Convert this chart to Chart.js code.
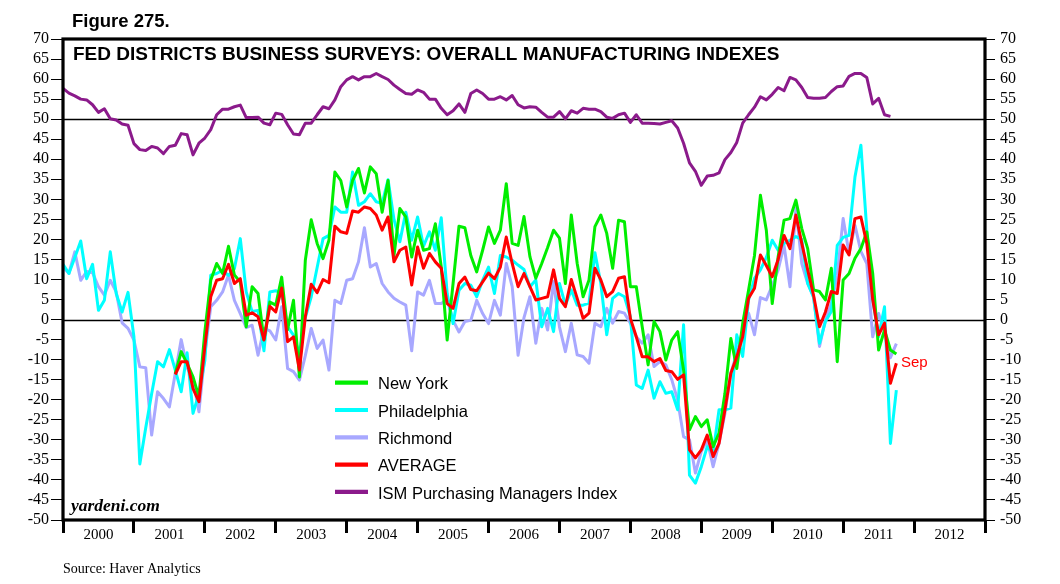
<!DOCTYPE html>
<html><head><meta charset="utf-8">
<script src="https://cdn.jsdelivr.net/npm/chart.js@4.4.1/dist/chart.umd.min.js"></script>
<style>html,body{margin:0;padding:0;background:#fff;}#wrap{width:1060px;height:584px;position:relative;}</style>
</head><body><div id="wrap"><canvas id="c" width="1060" height="584"></canvas></div>
<script>
// ---- DATA (monthly, index 0 = Dec 1999, points at month end) ----
const yearLabels = ['2000','2001','2002','2003','2004','2005','2006','2007','2008','2009','2010','2011','2012'];
const yTicks = [-50, 70, 5];            // min, max, step
const seriesNames = ['New York','Philadelphia','Richmond','AVERAGE','ISM Purchasing Managers Index'];
const nyStart = 19;                     // NY survey and average begin Jul 2001

const ism = [
57.7,56.5,55.8,55.0,54.8,53.6,51.7,52.6,50.1,49.8,48.8,48.5,
43.9,42.4,42.2,43.2,42.8,41.4,43.2,43.5,46.4,46.1,41.1,44.0,
45.3,47.4,51.1,52.5,52.5,53.1,53.5,50.4,50.4,50.5,49.0,48.6,
51.5,51.2,48.6,46.3,46.1,49.0,49.0,51.1,53.1,52.6,54.8,58.1,
59.8,60.6,59.8,60.6,60.6,61.4,60.6,59.9,58.5,57.4,56.4,56.2,
57.3,56.7,55.0,55.0,52.7,51.1,52.1,53.8,51.7,56.4,57.3,56.4,
55.0,55.0,55.6,54.8,55.9,53.6,52.8,53.1,53.0,51.7,50.5,50.5,
51.9,50.1,52.1,51.5,52.7,52.5,52.5,51.9,50.5,50.2,51.1,51.5,
49.2,51.1,49.0,49.0,48.9,48.8,49.2,49.6,47.8,44.0,39.1,37.0,
33.5,35.8,36.0,36.6,39.9,41.7,44.2,49.0,51.1,53.0,55.6,54.8,
56.2,57.9,57.1,60.4,59.8,57.9,55.4,55.2,55.2,55.4,56.9,58.1,
58.3,60.7,61.4,61.4,60.4,53.8,55.2,51.1,50.7];

const philadelphia = [
13.8,11.5,15.5,19.6,10.2,13.8,2.3,4.8,16.9,6.5,1.9,6.8,
-4.3,-36,-27,-18.5,-10.5,-11.8,-7.5,-12.6,-18,-8.3,-23.4,-18.5,
-10.2,11.1,11.5,12.3,11,12.7,20.2,6.9,2,2.3,-7.8,6.9,
7.2,6.5,-1.8,-3.9,-8.5,0.5,5.7,13,20.2,21,28.1,26.8,
26.8,36.8,28.5,29.4,31.4,29.4,29,34.9,25,19.4,26.8,19.8,
25.6,18.3,21.9,17.3,25.4,6.5,-1,7.3,9,8.6,5.7,9.8,
13.1,6.5,16,15.6,14.8,13.6,12.5,8.2,9.9,-1.8,2.8,-3,
9,3.6,7.4,3.6,3.6,4.1,16.7,9,-3.8,5.3,6.5,5.7,
0.7,-16.3,-17.2,-12.6,-19.6,-15.5,-18.4,-18,-22.5,-1.3,-38.8,-40.8,
-36.7,-31.7,-33.3,-22.5,-22.5,-22.1,-3.8,-9.2,4.9,10.3,12.4,15.5,
19.8,17.3,19,19.8,20.7,20,9,5.5,-5.9,-0.5,2,18.5,
20.5,21,35.6,43.5,22.4,5,-4.3,3.2,-30.9,-17.6];

const richmond = [
13.1,11.5,16.9,9.8,12.0,11.7,8.2,6.1,9.8,6.9,-0.8,-2.2,
-5.1,-11.8,-12,-28.8,-18,-19.7,-21.8,-13.4,-5,-12,-15,-23,
-8.5,3.2,4.8,6.9,11.1,4.8,1.5,-2,-1.4,-8.9,-2.2,-2.8,
-5.1,3.2,-12.2,-13,-15.1,-9,-2.2,-7.2,-5.1,-12.6,4.8,4,
9.8,10.2,14.4,22.9,13.1,14,9,6.9,5.3,4.4,3.6,-7.8,
6.9,6.1,9.8,4,4,5,-0.2,-3.1,-0.5,-0.2,4.8,1.5,
-1,4.8,1.1,14,8.2,-8.9,0.5,5.7,-5.9,2.8,-2.6,9.5,
-1.8,-8,-0.9,-8.8,-9.2,-10.9,-0.9,-1.8,2.8,-0.9,2,1.6,
-0.9,-4.3,-5.9,-3.8,-11.7,-10.5,-11.3,-15,-20.1,-29.2,-30,-38.3,
-32.9,-30,-36.7,-30.8,-23.4,-13.4,-8.4,-2.6,1.6,-3.8,5.5,4.9,
8.5,12.4,18.5,8.2,27.8,14,9,5.7,-6.7,0,4,11,
25.2,16.5,23.5,17,14,-4.3,1.5,-3,-9.5,-6];

const newYork = [
-13.5,-8,-11,-14.3,-19.3,
-3,9.8,14,11.5,18.3,11.1,9.4,-1.8,8.2,6.5,-5,4.4,
3.6,10.6,-2.5,4.8,-14.3,14.8,24.9,19,15.2,19.8,36.8,34.7,
28.1,34.7,37.7,31.6,38.1,36.4,26.8,34.7,16,27.7,25.6,15.6,
22.3,17.3,17.7,23.9,13.1,-5.1,9,23.3,22.9,16,11.9,17.3,
23.1,19,22.3,33.9,19,18.5,25.7,15.7,10.3,14,18,22.3,
20.3,9,26.1,14,5.7,9.9,23.2,26.1,21.5,12.8,24.8,24.4,
8.2,8.2,-1.8,-11.3,-0.5,-3,-10.1,-5.1,-3,-12.6,-27.5,-24.2,
-26.7,-25,-31.7,-28.3,-18.4,-4.7,-12.2,-1,7.4,16,31,22.3,
4,15.7,24.8,25.2,29.8,22.7,17.7,7.4,7,4.9,12.8,-10.5,
9.9,11.5,15.3,17.7,21.9,11.5,-7.6,-2.6,-7.6,-8.6];

const average = [
-13.7,-10.5,-10.5,-17.2,-20.5,
-6.8,5.7,9.8,10.2,13.8,9,10.2,1.1,1.7,0.7,-5.1,3.3,
1.9,7.9,-5.5,-4.3,-12.6,0.7,8.8,6.7,10,9.2,23.3,21.9,
21.5,27.1,26.8,28.1,27.7,26.1,22.3,25.6,14.4,17.3,18.1,8.6,
18.1,12.8,16.5,14.4,12.8,4,2.8,9,10.6,7.5,7.2,9.4,
11.6,10.2,13.1,20.6,14,8.2,11.5,8.2,4.9,5.3,5.7,12.4,
5.3,3.2,10,5.3,0.3,1.6,12.8,9.9,5.7,7,10.3,10.7,
0.3,-4.3,-9.3,-9.3,-10.5,-9.7,-12.7,-13,-14.9,-13.8,-32.5,-34.5,
-32.5,-28.8,-34.2,-30.9,-22.5,-13.4,-9.3,-4.3,5.3,7.8,16.1,13.5,
10.7,15,21,17.7,26.1,19,12.4,6,-1.8,1.9,7,6.5,
18.6,16.1,25.2,25.6,19,5,-3.8,-0.9,-15.9,-10.9];

// ---- CHART ----
const COLORS = ['#00ee00','#00ffff','#a8a8ff','#ff0000','#8b1a8b'];
const pts = (arr, start) => arr.map((v, i) => ({x: start + i, y: v}));
const serif = '"Liberation Serif", "Times New Roman", serif';
const sans = '"Liberation Sans", Arial, sans-serif';

const decor = {
  id: 'decor',
  beforeDatasetsDraw(chart) {
    const {ctx, chartArea: a, scales: {y}} = chart;
    ctx.save();
    ctx.strokeStyle = '#000'; ctx.lineWidth = 1.5;
    [0, 50].forEach(v => {
      const py = Math.round(y.getPixelForValue(v)) + 0.5;
      ctx.beginPath(); ctx.moveTo(a.left, py); ctx.lineTo(a.right, py); ctx.stroke();
    });
    ctx.restore();
  },
  afterDraw(chart) {
    const {ctx, chartArea: a} = chart;
    ctx.save();
    // frame
    ctx.strokeStyle = '#000'; ctx.lineWidth = 3.2;
    ctx.strokeRect(a.left, a.top, a.right - a.left, a.bottom - a.top);
    // figure label
    ctx.fillStyle = '#000';
    ctx.textBaseline = 'alphabetic'; ctx.textAlign = 'left';
    ctx.font = 'bold 18.5px ' + sans;
    ctx.fillText('Figure 275.', 72, 27);
    // chart title fitted to width
    const title = 'FED DISTRICTS BUSINESS SURVEYS: OVERALL MANUFACTURING INDEXES';
    ctx.font = 'bold 19px ' + sans;
    const w = ctx.measureText(title).width;
    const fs = 19 * 707 / w;
    ctx.font = 'bold ' + fs.toFixed(2) + 'px ' + sans;
    ctx.fillText(title, 73, 60);
    // legend
    ctx.font = '16.5px ' + sans;
    seriesNames.forEach((name, k) => {
      const base = 389.3 + k * 27.3;
      ctx.strokeStyle = COLORS[k]; ctx.lineWidth = 4.2;
      ctx.beginPath(); ctx.moveTo(335, base - 6.6); ctx.lineTo(368, base - 6.6); ctx.stroke();
      ctx.fillStyle = '#000';
      ctx.fillText(name, 378, base);
    });
    // watermark
    ctx.font = 'bold italic 17.5px ' + serif;
    ctx.fillText('yardeni.com', 71, 511);
    // source
    ctx.font = '14px ' + serif;
    ctx.fillText('Source: Haver Analytics', 63, 573);
    // Sep label
    ctx.fillStyle = '#ff0000';
    ctx.font = '15px ' + sans;
    ctx.fillText('Sep', 901, 367);
    ctx.restore();
  }
};

const yCommon = (pos) => ({
  type: 'linear', position: pos, min: yTicks[0], max: yTicks[1],
  border: {display: false},
  grid: {drawOnChartArea: false, drawTicks: true, tickLength: pos === 'left' ? 12 : 10, tickColor: '#000', tickWidth: 1},
  ticks: {stepSize: yTicks[2], autoSkip: false, maxTicksLimit: 100, color: '#000',
          font: {family: serif, size: 16}, padding: pos === 'left' ? 2 : 5},
  afterFit: s => { s.width = pos === 'left' ? 63 : 75; }
});

new Chart(document.getElementById('c'), {
  type: 'line',
  data: {
    datasets: [
      {label: seriesNames[3], data: pts(average, nyStart), borderColor: COLORS[3], order: 0},
      {label: seriesNames[0], data: pts(newYork, nyStart), borderColor: COLORS[0], order: 1},
      {label: seriesNames[1], data: pts(philadelphia, 0), borderColor: COLORS[1], order: 2},
      {label: seriesNames[2], data: pts(richmond, 0), borderColor: COLORS[2], order: 3},
      {label: seriesNames[4], data: pts(ism, 0), borderColor: COLORS[4], order: 4}
    ].map(d => Object.assign(d, {borderWidth: 3, borderJoinStyle: 'round', pointRadius: 0, tension: 0, fill: false, yAxisID: 'y'}))
  },
  options: {
    responsive: false, animation: false,
    layout: {padding: {top: 39, left: 0, right: 0, bottom: 0}},
    plugins: {legend: {display: false}, tooltip: {enabled: false}, title: {display: false}},
    scales: {
      x: {
        type: 'linear', position: 'bottom', min: 0, max: yearLabels.length * 12,
        afterBuildTicks: s => { const t = []; for (let v = 0; v <= yearLabels.length * 12; v += 6) t.push({value: v}); s.ticks = t; },
        border: {display: false},
        grid: {drawOnChartArea: false, drawTicks: true, tickLength: 13, tickWidth: 3,
               tickColor: c => (c.tick && c.tick.value % 12 === 0) ? '#000' : 'rgba(0,0,0,0)'},
        ticks: {autoSkip: false, maxRotation: 0, color: '#000', padding: -7,
                font: {family: serif, size: 15},
                callback: v => (v % 12 === 6) ? yearLabels[(v - 6) / 12] : ''},
        afterFit: s => { s.height = 64; }
      },
      y: yCommon('left'),
      y2: yCommon('right')
    }
  },
  plugins: [decor]
});
</script></body></html>
